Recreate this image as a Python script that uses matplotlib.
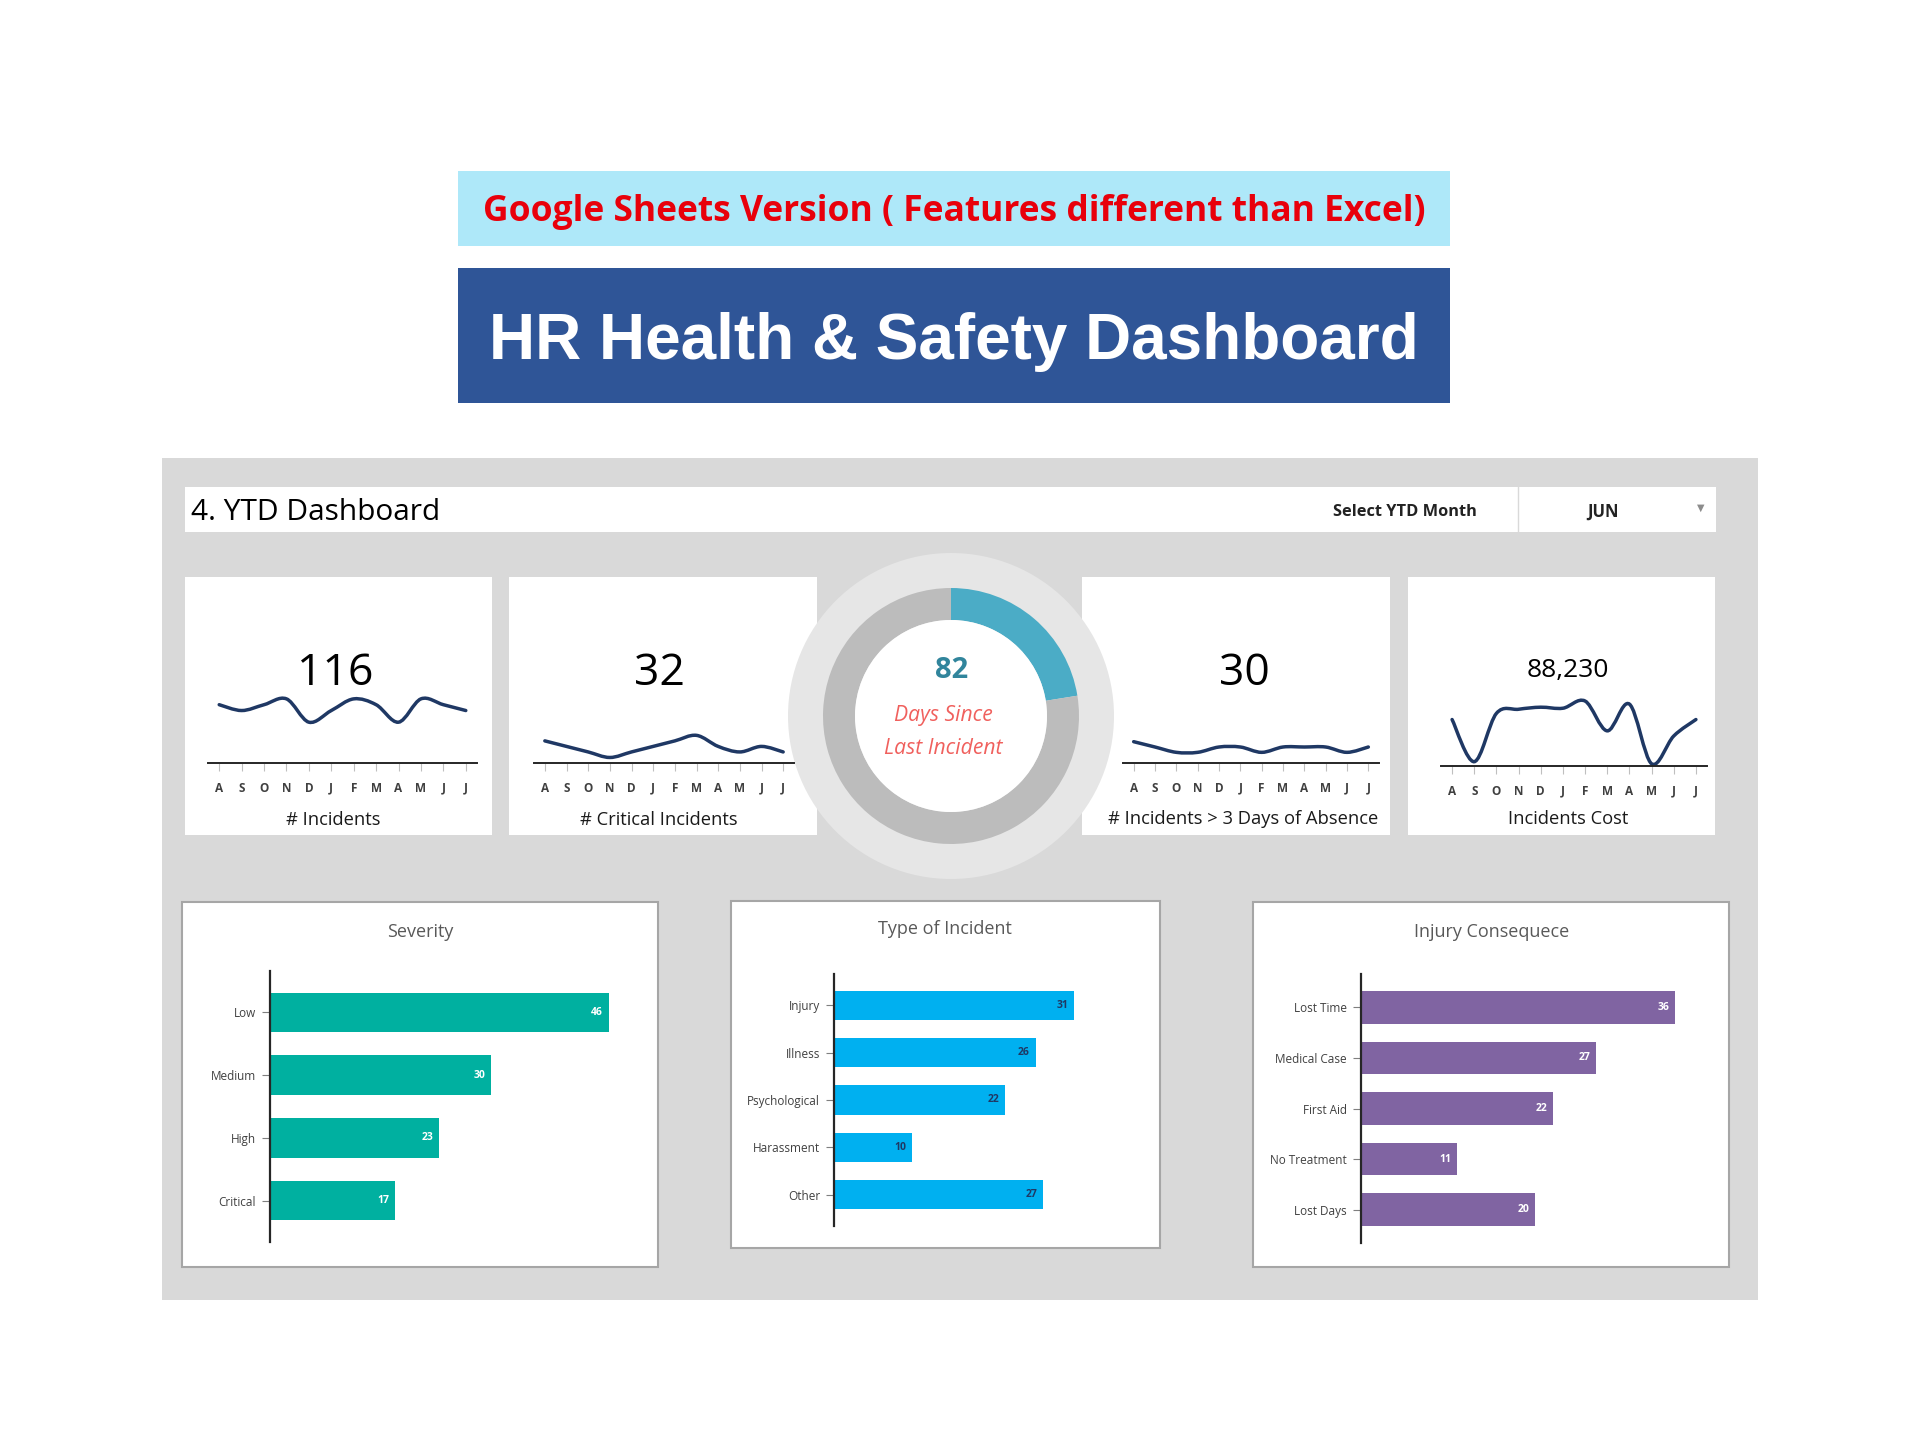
import numpy as np
import matplotlib
matplotlib.use("Agg")
import matplotlib.pyplot as plt
from matplotlib.patches import Rectangle, Circle, PathPatch
from matplotlib.path import Path

plt.rcParams["font.family"] = ["Open Sans", "DejaVu Sans"]

# ---- data ----
months = ["A", "S", "O", "N", "D", "J", "F", "M", "A", "M", "J", "J"]
incidents = [10, 9, 10, 11, 7, 9, 11, 10, 7, 11, 10, 9]
critical = [4, 3, 2, 1, 2, 3, 4, 5, 3, 2, 3, 2]
absence = [4, 3, 2, 2, 3, 3, 2, 3, 3, 3, 2, 3]
cost = [8200, 4100, 8800, 9200, 9400, 9300, 10000, 7100, 9700, 3900, 6600, 8200]

kpi_labels = ["# Incidents", "# Critical Incidents",
              "# Incidents > 3 Days of Absence", "Incidents Cost"]
kpi_values = ["116", "32", "30", "88,230"]
days_since = 82
days_year = 365

sev_cats = ["Low", "Medium", "High", "Critical"]
sev_vals = [46, 30, 23, 17]
type_cats = ["Injury", "Illness", "Psychological", "Harassment", "Other"]
type_vals = [31, 26, 22, 10, 27]
cons_cats = ["Lost Time", "Medical Case", "First Aid", "No Treatment", "Lost Days"]
cons_vals = [36, 27, 22, 11, 20]

W, H = 1920, 1440
fig = plt.figure(figsize=(19.2, 14.4), dpi=100)
fig.patch.set_facecolor("white")


def box(x0, y0, x1, y1):
    return [x0 / W, 1 - y1 / H, (x1 - x0) / W, (y1 - y0) / H]


def smooth_path(xs, ys):
    # catmull-rom style smoothing drawn as bezier segments through the points
    pts = np.column_stack([xs, ys]).astype(float)
    ext = np.vstack([pts[0], pts, pts[-1]])
    verts = [pts[0]]
    codes = [Path.MOVETO]
    for i in range(len(pts) - 1):
        p0, p1, p2, p3 = ext[i], ext[i + 1], ext[i + 2], ext[i + 3]
        verts += [p1 + (p2 - p0) / 6, p2 - (p3 - p1) / 6, p2]
        codes += [Path.CURVE4] * 3
    return Path(verts, codes)


def pixel_axes():
    a = fig.add_axes([0, 0, 1, 1])
    a.set_xlim(0, W)
    a.set_ylim(H, 0)
    a.axis("off")
    a.set_facecolor("none")
    return a


# background layer in pixel coords
bg = pixel_axes()


def rect(x0, y0, x1, y1, fc, ec="none", lw=0):
    bg.add_patch(Rectangle((x0, y0), x1 - x0, y1 - y0, facecolor=fc,
                           edgecolor=ec, linewidth=lw))


rect(458, 171, 1450, 246, "#AEE8F9")
rect(458, 268, 1450, 403, "#2F5597")
rect(162, 458, 1758, 1300, "#D9D9D9")
rect(185, 487, 1716, 532, "white")
bg.plot([1518, 1518], [487, 532], color="#D9D9D9", lw=1)

cards = [(185, 577, 492, 835), (509, 577, 817, 835),
         (1082, 577, 1390, 835), (1408, 577, 1715, 835)]
for c in cards:
    rect(*c, "white")

bar_cards = [(182, 902, 658, 1267), (731, 901, 1160, 1248), (1253, 902, 1729, 1267)]
for c in bar_cards:
    rect(*c, "white", ec="#A6A6A6", lw=1.5)

# ---- donut ----
cx, cy, half = 951, 716, 170
dax = fig.add_axes(box(cx - half, cy - half, cx + half, cy + half))
dax.set_facecolor("none")
dax.add_patch(Circle((0, 0), 163 / half, facecolor="#E6E6E6", edgecolor="none"))
dax.pie([days_since, days_year - days_since], colors=["#4BACC6", "#BCBCBC"],
        startangle=90, counterclock=False, radius=128 / half,
        wedgeprops=dict(width=(128 - 96) / half, linewidth=0))
dax.add_patch(Circle((0, 0), 96 / half, facecolor="white", edgecolor="none"))
dax.set_xlim(-1, 1)
dax.set_ylim(-1, 1)
dax.axis("off")

# ---- sparklines ----
spark = [
    (incidents, (208, 477), 763, 5.83, 0),
    (critical, (534, 794), 763, 5.53, 0),
    (absence, (1123, 1379), 763, 5.33, 0),
    (cost, (1441, 1707), 766, 0.01028, 3680),
]
num_pos = [(335, 674, 32), (659, 674, 32), (1244, 674, 32), (1568, 670, 19)]
lab_pos = [(333, 820), (659, 820), (1243, 819), (1568, 819)]
for vals, (x0, x1), ybase, ppu, ymin in spark:
    hpx = 80
    ax = fig.add_axes(box(x0, ybase - hpx, x1, ybase))
    ax.set_facecolor("none")
    xs = np.arange(len(vals))
    ax.add_patch(PathPatch(smooth_path(xs, vals), facecolor="none",
                           edgecolor="#1F3864", lw=2.5, capstyle="round"))
    ax.set_xlim(-0.5, len(vals) - 0.5)
    ax.set_ylim(ymin, ymin + hpx / ppu)
    for s in ["top", "right", "left"]:
        ax.spines[s].set_visible(False)
    ax.spines["bottom"].set_color("#262626")
    ax.spines["bottom"].set_linewidth(1.4)
    ax.set_yticks([])
    ax.set_xticks(xs)
    ax.set_xticklabels(months, fontsize=8.5, fontweight="bold", color="#404040")
    ax.tick_params(axis="x", length=6, width=0.8, color="#BFBFBF", pad=7.5)

# ---- bar charts ----
bars = [
    ("Severity", sev_cats, sev_vals, "#00B0A0", "white",
     (270, 971, 640, 1242), 7.36, 0.63, (420, 932)),
    ("Type of Incident", type_cats, type_vals, "#00B0F0", "#1F3864",
     (834, 974, 1134, 1226), 7.75, 0.62, (945, 929)),
    ("Injury Consequece", cons_cats, cons_vals, "#8064A2", "white",
     (1361, 974, 1701, 1243), 8.72, 0.65, (1492, 932)),
]
for title, cats, vals, col, tcol, (x0, y0, x1, y1), ppu, bh, _ in bars:
    ax = fig.add_axes(box(x0, y0, x1, y1))
    ax.set_facecolor("none")
    ys = np.arange(len(cats))
    ax.barh(ys, vals, height=bh, color=col)
    ax.set_xlim(0, (x1 - x0) / ppu)
    ax.set_ylim(len(cats) - 1 + 0.66, -0.66)
    for y, v in zip(ys, vals):
        ax.annotate(str(v), (v, y), xytext=(-4, 0), textcoords="offset points",
                    ha="right", va="center", fontsize=7.5, fontweight="bold",
                    color=tcol)
    for s in ["top", "right", "bottom"]:
        ax.spines[s].set_visible(False)
    ax.spines["left"].set_color("#262626")
    ax.spines["left"].set_linewidth(1.6)
    ax.set_xticks([])
    ax.set_yticks(ys)
    ax.set_yticklabels(cats, fontsize=8.5, color="#404040")
    ax.tick_params(axis="y", length=6, width=0.8, color="#7F7F7F", pad=4)

# ---- text overlay ----
top = pixel_axes()
top.text(954, 212, "Google Sheets Version ( Features different than Excel)",
         ha="center", va="center", fontsize=25.5, fontweight="bold", color="#E8000B")
top.text(954, 342, "HR Health & Safety Dashboard", ha="center", va="center",
         fontsize=46, fontweight="bold", color="white", family="Liberation Sans")
top.text(191, 513, "4. YTD Dashboard", ha="left", va="center", fontsize=21.5,
         color="black")
top.text(1405, 512, "Select YTD Month", ha="center", va="center", fontsize=11.8,
         fontweight="bold", color="#222222")
top.text(1603, 512, "JUN", ha="center", va="center", fontsize=12,
         fontweight="bold", color="#222222")
top.text(1701, 508, "▼", ha="center", va="center", fontsize=7, color="#8C8C8C",
         family="DejaVu Sans")

top.text(952, 670, str(days_since), ha="center", va="center", fontsize=21,
         fontweight="bold", color="#31859C")
top.text(943, 716, "Days Since", ha="center", va="center", fontsize=15.2,
         style="italic", color="#F0605D")
top.text(943, 749, "Last Incident", ha="center", va="center", fontsize=15.2,
         style="italic", color="#F0605D")

for (nx, ny, nfs), (lx, ly), val, lab in zip(num_pos, lab_pos, kpi_values, kpi_labels):
    top.text(nx, ny, val, ha="center", va="center", fontsize=nfs, color="black")
    top.text(lx, ly, lab, ha="center", va="center", fontsize=13.2, color="#1A1A1A")

for title, *_, (tx, ty) in bars:
    top.text(tx, ty, title, ha="center", va="center", fontsize=13, color="#595959")

fig.savefig("out.png", dpi=100, facecolor="white")
